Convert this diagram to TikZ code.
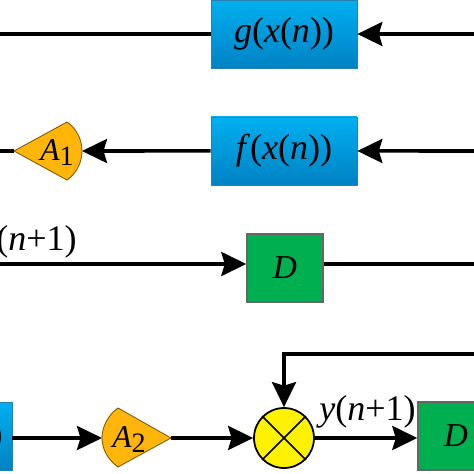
\documentclass[tikz,border=0pt]{standalone}
\usepackage{fontspec}
\setmainfont{Liberation Serif}
\usetikzlibrary{arrows.meta}
\definecolor{boxblue}{RGB}{0,176,240}
\definecolor{boxbluedark}{RGB}{0,130,196}
\definecolor{boxgreen}{RGB}{0,176,80}
\definecolor{ampfill}{RGB}{255,181,10}
\newcommand{\vr}[1]{\textit{#1}}
\newcommand{\sbs}[1]{\raisebox{-0.35ex}{\fontsize{16}{18}\selectfont #1}}
\begin{document}
\begin{tikzpicture}[x=0.02cm, y=-0.02cm, node distance=2.34cm]
    % Styles
    \tikzstyle{funcblock} = [rectangle, draw=boxbluedark!70!gray, line width=0.4pt, top color=boxblue, bottom color=boxbluedark,
        minimum width=2.92cm, minimum height=1.36cm, inner sep=0pt, font=\fontsize{20.5}{24}\selectfont]
    \tikzstyle{delayblock} = [rectangle, draw=black!60, line width=0.8pt, fill=boxgreen,
        minimum width=1.52cm, minimum height=1.36cm, inner sep=0pt, font=\fontsize{19}{22}\selectfont]
    \tikzstyle{ampblock} = [draw=black!50!ampfill, line width=0.5pt, fill=ampfill]
    \tikzstyle{mixblock} = [circle, draw, line width=1pt, fill=yellow, minimum size=1.2cm, inner sep=0pt]
    \tikzstyle{amplabel} = [inner sep=0pt, font=\fontsize{18}{20}\selectfont]
    \tikzstyle{siglabel} = [inner sep=0pt, font=\fontsize{20.5}{24}\selectfont]
    \tikzstyle{wire} = [line width=2pt]
    \tikzstyle{arrow} = [line width=2pt,-{Stealth[length=0.5cm,width=0.48cm,inset=0.07cm]}]

    \path[use as bounding box, clip] (0,0) rectangle (474,474);

    % === Blocks ===
    \node [funcblock] (gblock) at (284,34) {\vr{g}(\vr{x}(\vr{n}))};
    \node [funcblock, below of=gblock] (fblock) {\vr{f}(\vr{x}(\vr{n}))};
    \node [delayblock] (dtop) at (285,268) {\vr{D}};
    \node [funcblock] (hblock) at (-61,436) {};
    \node [delayblock] (dbottom) at (456,436) {\vr{D}};
    \node [mixblock] (mixer) at (284,438) {};
    \draw [line width=1pt] (mixer.45) -- (mixer.225) (mixer.135) -- (mixer.315);

    % === Amplifiers ===
    \coordinate (aonetip) at (14,151);
    \coordinate (aoneback) at (82,151);
    \draw [ampblock] (aonetip) -- (67,122) .. controls (77,129) and (82,140) .. (aoneback)
        .. controls (82,162) and (77,173) .. (67,180) -- cycle;
    \node [amplabel] (aone) at (57,153) {\vr{A}\sbs{1}};
    \coordinate (atwotip) at (171,438);
    \coordinate (atwoback) at (102,438);
    \draw [ampblock] (atwotip) -- (118,408) .. controls (108,415) and (102,427) .. (atwoback)
        .. controls (102,449) and (108,460) .. (118,467) -- cycle;
    \node [amplabel] (atwo) at (129,440) {\vr{A}\sbs{2}};

    % === Free ends ===
    \coordinate (gout) at (0,34);
    \coordinate (gin) at (474,34);
    \coordinate (aout) at (0,151);
    \coordinate (fin) at (474,151);
    \coordinate (dleft) at (0,264);
    \coordinate (dright) at (474,264);
    \coordinate (fbright) at (474,354);
    \coordinate (fbcorner) at (284,354);
    \coordinate (hout) at (12,438);

    % === Arrows ===
    \draw [wire] (gblock) -- (gout);
    \draw [arrow] (gin) -- (gblock.east);
    \draw [arrow] (fin) -- (fblock.east);
    \draw [arrow] (fblock.west) -- (aoneback);
    \draw [wire] (aonetip) -- (aout);
    \draw [arrow] (dleft) -- (dleft -| dtop.west);
    \draw [wire] (dright -| dtop.east) -- (dright);
    \draw [arrow] (hout) -- (atwoback);
    \draw [arrow] (atwotip) -- (mixer.west);
    \draw [arrow] (fbright) -- (fbcorner) -- (mixer.north);
    \draw [arrow] (mixer.east) -- (mixer.east -| dbottom.west);

    % === Labels ===
    \node [siglabel, anchor=base east] (xlabel) at (77,250) {(\vr{n}+1)};
    \node [siglabel, anchor=base east] (ylabel) at (416,420) {\vr{y}(\vr{n}+1)};
    \node [siglabel, anchor=east] (hlabel) at (3,437) {)};
\end{tikzpicture}
\end{document}
